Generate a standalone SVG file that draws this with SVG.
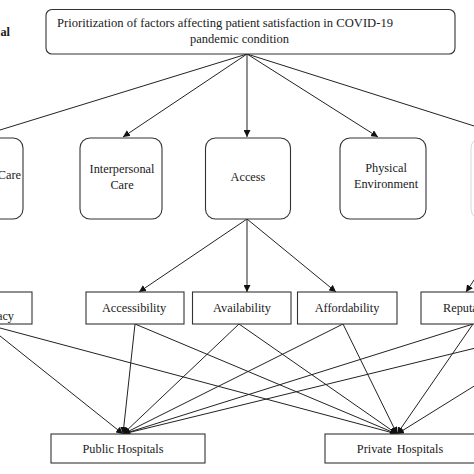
<svg xmlns="http://www.w3.org/2000/svg" width="474" height="474" viewBox="0 0 474 474">
<defs>
<marker id="ah" viewBox="0 0 10 10" refX="10" refY="5" markerWidth="7" markerHeight="7" markerUnits="userSpaceOnUse" orient="auto">
<path d="M0,0 L10,5 L0,10 z" fill="#111"/>
</marker>
</defs>
<style>
.box{fill:#fff;stroke:#333;stroke-width:1.1}
.faint{fill:none;stroke:#d8d8d8;stroke-width:1}
.t{font-family:'Liberation Serif','DejaVu Serif',serif;font-size:12.3px;fill:#1a1a1a}
.tt{font-family:'Liberation Serif','DejaVu Serif',serif;font-size:12.5px;fill:#1a1a1a}
.c{stroke:#222;stroke-width:1;fill:none;marker-end:url(#ah)}
</style>
<rect width="474" height="474" fill="#fff"/>
<text class="t" x="10" y="36" text-anchor="end" font-weight="bold" font-family="Liberation Serif, serif">al</text>

<g id="connectors">
<line class="c" x1="247" y1="54" x2="-26" y2="138"/>
<line class="c" x1="247" y1="54" x2="123" y2="137"/>
<line class="c" x1="247" y1="54" x2="247" y2="137"/>
<line class="c" x1="247" y1="54" x2="378" y2="137"/>
<line class="c" x1="247" y1="54" x2="512" y2="138"/>
<line class="c" x1="247" y1="219" x2="139" y2="292"/>
<line class="c" x1="247" y1="219" x2="247" y2="292"/>
<line class="c" x1="247" y1="219" x2="336" y2="292"/>
<line class="c" x1="515" y1="219" x2="466" y2="292"/>
<line class="c" x1="-15" y1="324" x2="123" y2="434"/>
<line class="c" x1="-15" y1="324" x2="397" y2="434"/>
<line class="c" x1="135" y1="324" x2="123" y2="434"/>
<line class="c" x1="135" y1="324" x2="397" y2="434"/>
<line class="c" x1="239" y1="324" x2="123" y2="434"/>
<line class="c" x1="239" y1="324" x2="397" y2="434"/>
<line class="c" x1="343" y1="324" x2="123" y2="434"/>
<line class="c" x1="343" y1="324" x2="397" y2="434"/>
<line class="c" x1="473" y1="324" x2="123" y2="434"/>
<line class="c" x1="473" y1="324" x2="397" y2="434"/>
<line class="c" x1="574" y1="324" x2="123" y2="434"/>
<line class="c" x1="574" y1="324" x2="397" y2="434"/>
</g>

<g id="goal">
<rect class="box" x="46" y="9.5" width="409" height="44.5" rx="6"/>
<text class="tt" x="57" y="27" font-family="Liberation Serif, serif" textLength="336" lengthAdjust="spacingAndGlyphs">Prioritization of factors affecting patient satisfaction in COVID-19</text>
<text class="tt" x="239.5" y="43" font-family="Liberation Serif, serif" text-anchor="middle">pandemic condition</text>
</g>

<g id="care-left">
<rect class="box" x="-70" y="138" width="93" height="81" rx="10"/>
<text class="t" x="21" y="179" font-family="Liberation Serif, serif" text-anchor="end">Care</text>
</g>
<g id="interpersonal-care">
<rect class="box" x="80" y="138" width="82" height="81" rx="10"/>
<text class="t" x="122" y="173" font-family="Liberation Serif, serif" text-anchor="middle">Interpersonal</text>
<text class="t" x="122" y="189" font-family="Liberation Serif, serif" text-anchor="middle">Care</text>
</g>
<g id="access">
<rect class="box" x="205.5" y="138" width="85" height="81" rx="10"/>
<text class="t" x="248" y="181" font-family="Liberation Serif, serif" text-anchor="middle">Access</text>
</g>
<g id="physical-environment">
<rect class="box" x="340" y="138" width="86" height="81" rx="10"/>
<text class="t" x="386" y="172" font-family="Liberation Serif, serif" text-anchor="middle">Physical</text>
<text class="t" x="386" y="188" font-family="Liberation Serif, serif" text-anchor="middle">Environment</text>
</g>
<g id="right-factor">
<rect class="faint" x="471" y="138" width="86" height="81" rx="10"/>
</g>

<g id="left-criterion">
<rect class="box" x="-80" y="292" width="112" height="32"/>
<text class="t" x="14" y="320" font-family="Liberation Serif, serif" text-anchor="end">acy</text>
</g>
<g id="accessibility">
<rect class="box" x="86" y="292" width="98" height="32"/>
<text class="t" x="134" y="312" font-family="Liberation Serif, serif" text-anchor="middle">Accessibility</text>
</g>
<g id="availability">
<rect class="box" x="192.5" y="292" width="98.5" height="32"/>
<text class="t" x="242" y="312" font-family="Liberation Serif, serif" text-anchor="middle">Availability</text>
</g>
<g id="affordability">
<rect class="box" x="297.5" y="292" width="99.5" height="32"/>
<text class="t" x="347" y="312" font-family="Liberation Serif, serif" text-anchor="middle">Affordability</text>
</g>
<g id="reputation">
<rect class="box" x="421" y="292" width="100" height="32"/>
<text class="t" x="443" y="312" font-family="Liberation Serif, serif">Reputation</text>
</g>

<g id="public-hospitals">
<rect class="box" x="51" y="434" width="154" height="29"/>
<text class="t" x="123" y="453" font-family="Liberation Serif, serif" text-anchor="middle">Public Hospitals</text>
</g>
<g id="private-hospitals">
<rect class="box" x="325" y="434" width="160" height="29"/>
<text class="t" x="400" y="453" font-family="Liberation Serif, serif" text-anchor="middle" word-spacing="2">Private Hospitals</text>
</g>
</svg>
